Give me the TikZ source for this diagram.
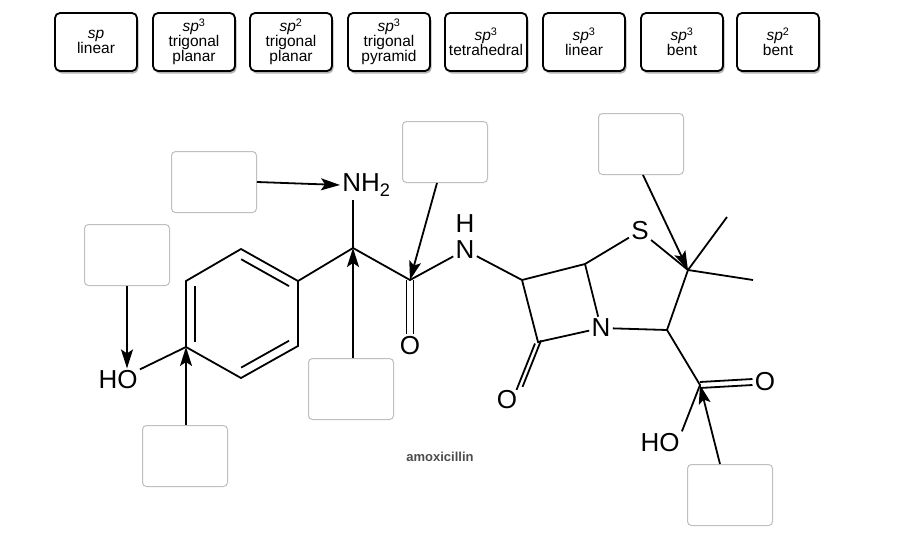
\documentclass[tikz,border=0pt]{standalone}
\usepackage{fontspec}
\setmainfont{Liberation Sans}
\usetikzlibrary{arrows.meta,shadows,calc}
\begin{document}
\begin{tikzpicture}[x=1pt,y=-1pt,line width=1.8pt,
  btn/.style={draw=black,line width=1.8pt,rounded corners=5pt,fill=white,minimum width=82pt,minimum height=58pt,align=center,font=\fontsize{15.5}{15}\selectfont,inner sep=0pt,drop shadow={shadow xshift=1.5pt,shadow yshift=-2.5pt,opacity=0.6}},
  box/.style={draw=black!25,line width=1pt,rounded corners=4pt,fill=white,minimum width=85pt,minimum height=61pt},
  atom/.style={font=\fontsize{26}{26}\selectfont,inner sep=1.5pt},
  arr/.style={-{Stealth[length=19pt,width=12pt,inset=4pt]},line width=1.8pt}]
\useasboundingbox (0,0) rectangle (908,533);
% buttons
\node[btn] (b1) at (96,42) {\textit{sp}\\linear};
\node[btn] (b2) at (194,42) {\textit{sp}\textsuperscript{3}\\trigonal\\planar};
\node[btn] (b3) at (291,42) {\textit{sp}\textsuperscript{2}\\trigonal\\planar};
\node[btn] (b4) at (389,42) {\textit{sp}\textsuperscript{3}\\trigonal\\pyramid};
\node[btn] (b5) at (486,42) {\textit{sp}\textsuperscript{3}\\tetrahedral};
\node[btn] (b6) at (584,42) {\textit{sp}\textsuperscript{3}\\linear};
\node[btn] (b7) at (682,42) {\textit{sp}\textsuperscript{3}\\bent};
\node[btn] (b8) at (778,42) {\textit{sp}\textsuperscript{2}\\bent};
% empty boxes
\node[box] (A) at (214,182) {};
\node[box] (B) at (127,255) {};
\node[box] (C) at (445,152) {};
\node[box] (D) at (641,144) {};
\node[box] (E) at (351,389) {};
\node[box] (F) at (185,456) {};
\node[box] (G) at (730,495) {};
% atoms
\node[atom,anchor=west] (N1) at (340,185) {NH\textsubscript{2}};
\coordinate (N1b) at (353,200);
\coordinate (ca) at (353,248);
\coordinate (r1) at (298,281);
\coordinate (r2) at (241,249);
\coordinate (r3) at (186,281);
\coordinate (r4) at (186,347);
\coordinate (r5) at (241,378);
\coordinate (r6) at (298,346);
\coordinate (rc) at (242,313);
\node[atom] (HO1) at (118,380) {HO};
\coordinate (c1) at (410,280);
\node[atom] (O1) at (410,346) {O};
\node[atom] (N2) at (465,250) {N};
\node[atom] (H2) at (465,224) {H};
\coordinate (c2) at (522,280);
\coordinate (c3) at (585,264);
\node[atom] (N3) at (601,328) {N};
\coordinate (c4) at (538,342);
\node[atom] (O2) at (507,400) {O};
\node[atom] (S) at (640,231) {S};
\coordinate (c5) at (688,270);
\coordinate (m1) at (727,217);
\coordinate (m2) at (753,280);
\coordinate (c6) at (667,330);
\coordinate (c7) at (700,385);
\node[atom] (O3) at (765,382) {O};
\node[atom] (HO2) at (660,443) {HO};
\node[font=\bfseries\fontsize{13}{13}\selectfont,text=black!70] (lab) at (440,457) {amoxicillin};
% bonds
\draw (N1b) -- (ca);
\draw (r1)--(r2)--(r3)--(r4)--(r5)--(r6)--cycle;
\draw ($(r2)!0.16!(rc)$)--($(r1)!0.16!(rc)$);
\draw ($(r3)!0.16!(rc)$)--($(r4)!0.16!(rc)$);
\draw ($(r5)!0.16!(rc)$)--($(r6)!0.16!(rc)$);
\draw (r1)--(ca)--(c1)--(N2);
\draw (r4)--(HO1);
\draw ([xshift=-3.5pt]c1)--([xshift=-3.5pt]O1.north);
\draw ([xshift=3.5pt]c1)--([xshift=3.5pt]O1.north);
\draw (N2)--(c2)--(c3)--(N3)--(c4)--(c2);
\draw (c3)--(S)--(c5)--(c6)--(N3);
\draw (c5)--(m1); \draw (c5)--(m2);
\draw ([xshift=-3pt,yshift=-1.5pt]c4)--([xshift=-3pt,yshift=-1.5pt]O2.north east);
\draw ([xshift=3pt,yshift=1.5pt]c4)--([xshift=3pt,yshift=1.5pt]O2.north east);
\draw (c6)--(c7)--(HO2.north east);
\draw ([yshift=-3pt]c7)--([yshift=-3pt]O3.west);
\draw ([yshift=3pt]c7)--([yshift=3pt]O3.west);
% arrows
\draw[arr] (A.east)--(N1.west);
\draw[arr] (B.south)--(B.south|-HO1.north);
\draw[arr] ([xshift=-8pt]C.south)--(c1);
\draw[arr] (E.north-|ca)--(ca);
\draw[arr] (F.north-|r4)--(r4);
\draw[arr] ([xshift=2pt]D.south)--(c5);
\draw[arr] ([xshift=-10pt]G.north)--(c7);
\end{tikzpicture}
\end{document}
